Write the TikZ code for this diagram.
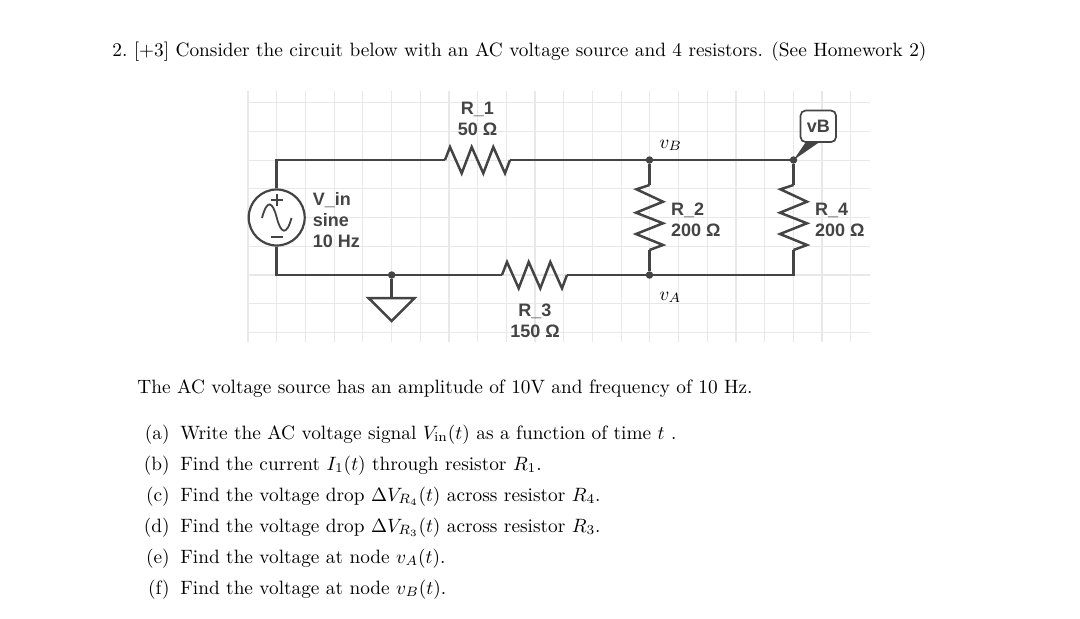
\documentclass[tikz,border=0pt]{standalone}
\usepackage{fontspec}
\newfontfamily\cktfont{Liberation Sans}
\usetikzlibrary{positioning}
\definecolor{wirecol}{HTML}{444444}
\definecolor{gridcol}{HTML}{E8E8E8}

\begin{document}
\begin{tikzpicture}[
x = 1pt, y = -1pt,
  wire/.style = {draw=wirecol, line width=2.5pt, line join=miter},
  dot/.style = {circle, fill=wirecol, inner sep=0pt, minimum size=7.5pt},
  lab/.style = {font=\cktfont\bfseries\fontsize{18}{20}\selectfont,
                text=wirecol, inner sep=0pt},
  txt/.style = {scale=1.93, inner sep=0pt, anchor=base west},
  num/.style = {scale=1.93, inner sep=0pt, anchor=base east},
  hres/.pic = {\coordinate (-l) at (0,0); \coordinate (-r) at (65,0);
               \draw[wire] (-l) -- (5,-13) -- (16.7,13.3) -- (26.7,-13)
                  -- (38.3,13.3) -- (48.3,-13) -- (60,13.3) -- (-r);},
  vres/.pic = {\coordinate (-t) at (0,0); \coordinate (-b) at (0,65);
               \draw[wire] (-t) -- (-13,4.3) -- (13.5,16.7) -- (-13.5,27.7)
                  -- (13.5,38.3) -- (-13.5,49) -- (13.5,60) -- (-b);},
                        ]
\useasboundingbox (0,0) rectangle (1080,619);

% grid
\foreach \i in {0,...,21}
    \draw[gridcol, line width=1.2pt] (248+28.7*\i,91) -- (248+28.7*\i,342);
\foreach \j in {0,...,8}
    \draw[gridcol, line width=1.2pt] (247,102.7+28.7*\j) -- (870,102.7+28.7*\j);

% corners and junctions
\coordinate (tl) at (276.7,160);
\coordinate (bl) at (276.7,275);
\coordinate (br) at (793.5,275);
\node[dot] (gnd) at (391.7,275) {};
\node[dot] (vb)  at (649.5,160) {};
\node[dot] (va)  at (649.5,275) {};
\node[dot] (vj)  at (793.5,160) {};

% resistors
\pic (r1) at (445,160) {hres};
\pic (r3) at (502,275) {hres};
\pic (r2) at (649.5,185) {vres};
\pic (r4) at (793.5,185) {vres};

% source
\node[circle, draw=wirecol, fill=white, line width=2.2pt, inner sep=0pt,
      minimum size=56pt] (src) at (276.7,217.5) {};
\draw[draw=wirecol, line width=1.8pt] (262,218) .. controls (267,199) and (272.5,201) .. (276.7,217.5)
      .. controls (281,234) and (286.5,236) .. (291.5,218);
\draw[draw=wirecol, line width=1.2pt] (271,200) -- (283,200) (277,194) -- (277,206);
\draw[draw=wirecol, line width=1.2pt] (271,237) -- (283,237);

% wires
\draw[wire] (src.north) -- (tl) -- (r1-l);
\draw[wire] (r1-r) -- (vb) -- (vj);
\draw[wire] (src.south) -- (bl) -- (r3-l);
\draw[wire] (r3-r) -- (va) -- (br) -- (r4-b);
\draw[wire] (vb) -- (r2-t);
\draw[wire] (r2-b) -- (va);
\draw[wire] (vj) -- (r4-t);

% ground
\coordinate (gt) at (391.7,298);
\draw[wire] (gnd) -- (gt);
\draw[wire, fill=white] (368.5,298) -- (414.5,298) -- (391.7,321) -- cycle;

% probe
\node[lab, draw=wirecol, fill=white, line width=1.7pt, rounded corners=5pt,
      minimum width=35.5pt, minimum height=31.5pt] (probe) at (818.3,126.3) {vB};
\fill[wirecol] (vj.center) -- ([xshift=-13pt]probe.south) -- (probe.south) -- cycle;

% circuit labels
\node[lab, anchor=base] (r1a) at (477.5,114) {R\_1};
\node[lab, anchor=base] (r1b) at (477.5,135.7) {50 Ω};
\node[lab, anchor=base] (r3a) at (535,316.7) {R\_3};
\node[lab, anchor=base] (r3b) at (535,337.7) {150 Ω};
\node[lab, anchor=base west] (r2a) at (671,215) {R\_2};
\node[lab, anchor=base west] (r2b) at (671,236.7) {200 Ω};
\node[lab, anchor=base west] (r4a) at (815,215) {R\_4};
\node[lab, anchor=base west] (r4b) at (815,236.7) {200 Ω};
\node[lab, anchor=base west] (vin1) at (312.7,205) {V\_in};
\node[lab, anchor=base west] (vin2) at (312.7,226) {sine};
\node[lab, anchor=base west] (vin3) at (312.7,247.7) {10 Hz};
\node[txt] (vbl) at (659,148) {$v_B$};
\node[txt] (val) at (659,300) {$v_A$};

% text
\node[txt] (head) at (112,56) {2.\ [+3] Consider the circuit below with an AC voltage source and 4 resistors. (See Homework 2)};
\node[txt] (intro) at (137,393) {The AC voltage source has an amplitude of 10V and frequency of 10 Hz.};
\foreach \lbl/\txtline [count=\j] in {
    (a)/Write the AC voltage signal $V_{\mathrm{in}}(t)$ as a function of time $t$ .,
    (b)/Find the current $I_1(t)$ through resistor $R_1$.,
    (c)/Find the voltage drop $\Delta V_{R_4}(t)$ across resistor $R_4$.,
    (d)/Find the voltage drop $\Delta V_{R_3}(t)$ across resistor $R_3$.,
    (e)/Find the voltage at node $v_A(t)$.,
    (f)/Find the voltage at node $v_B(t)$.}
{
    \node[num] (lbl-\j) at (170,408+31*\j) {\lbl};
    \node[txt] (item-\j) at (180,408+31*\j) {\txtline};
}
\end{tikzpicture}
\end{document}
